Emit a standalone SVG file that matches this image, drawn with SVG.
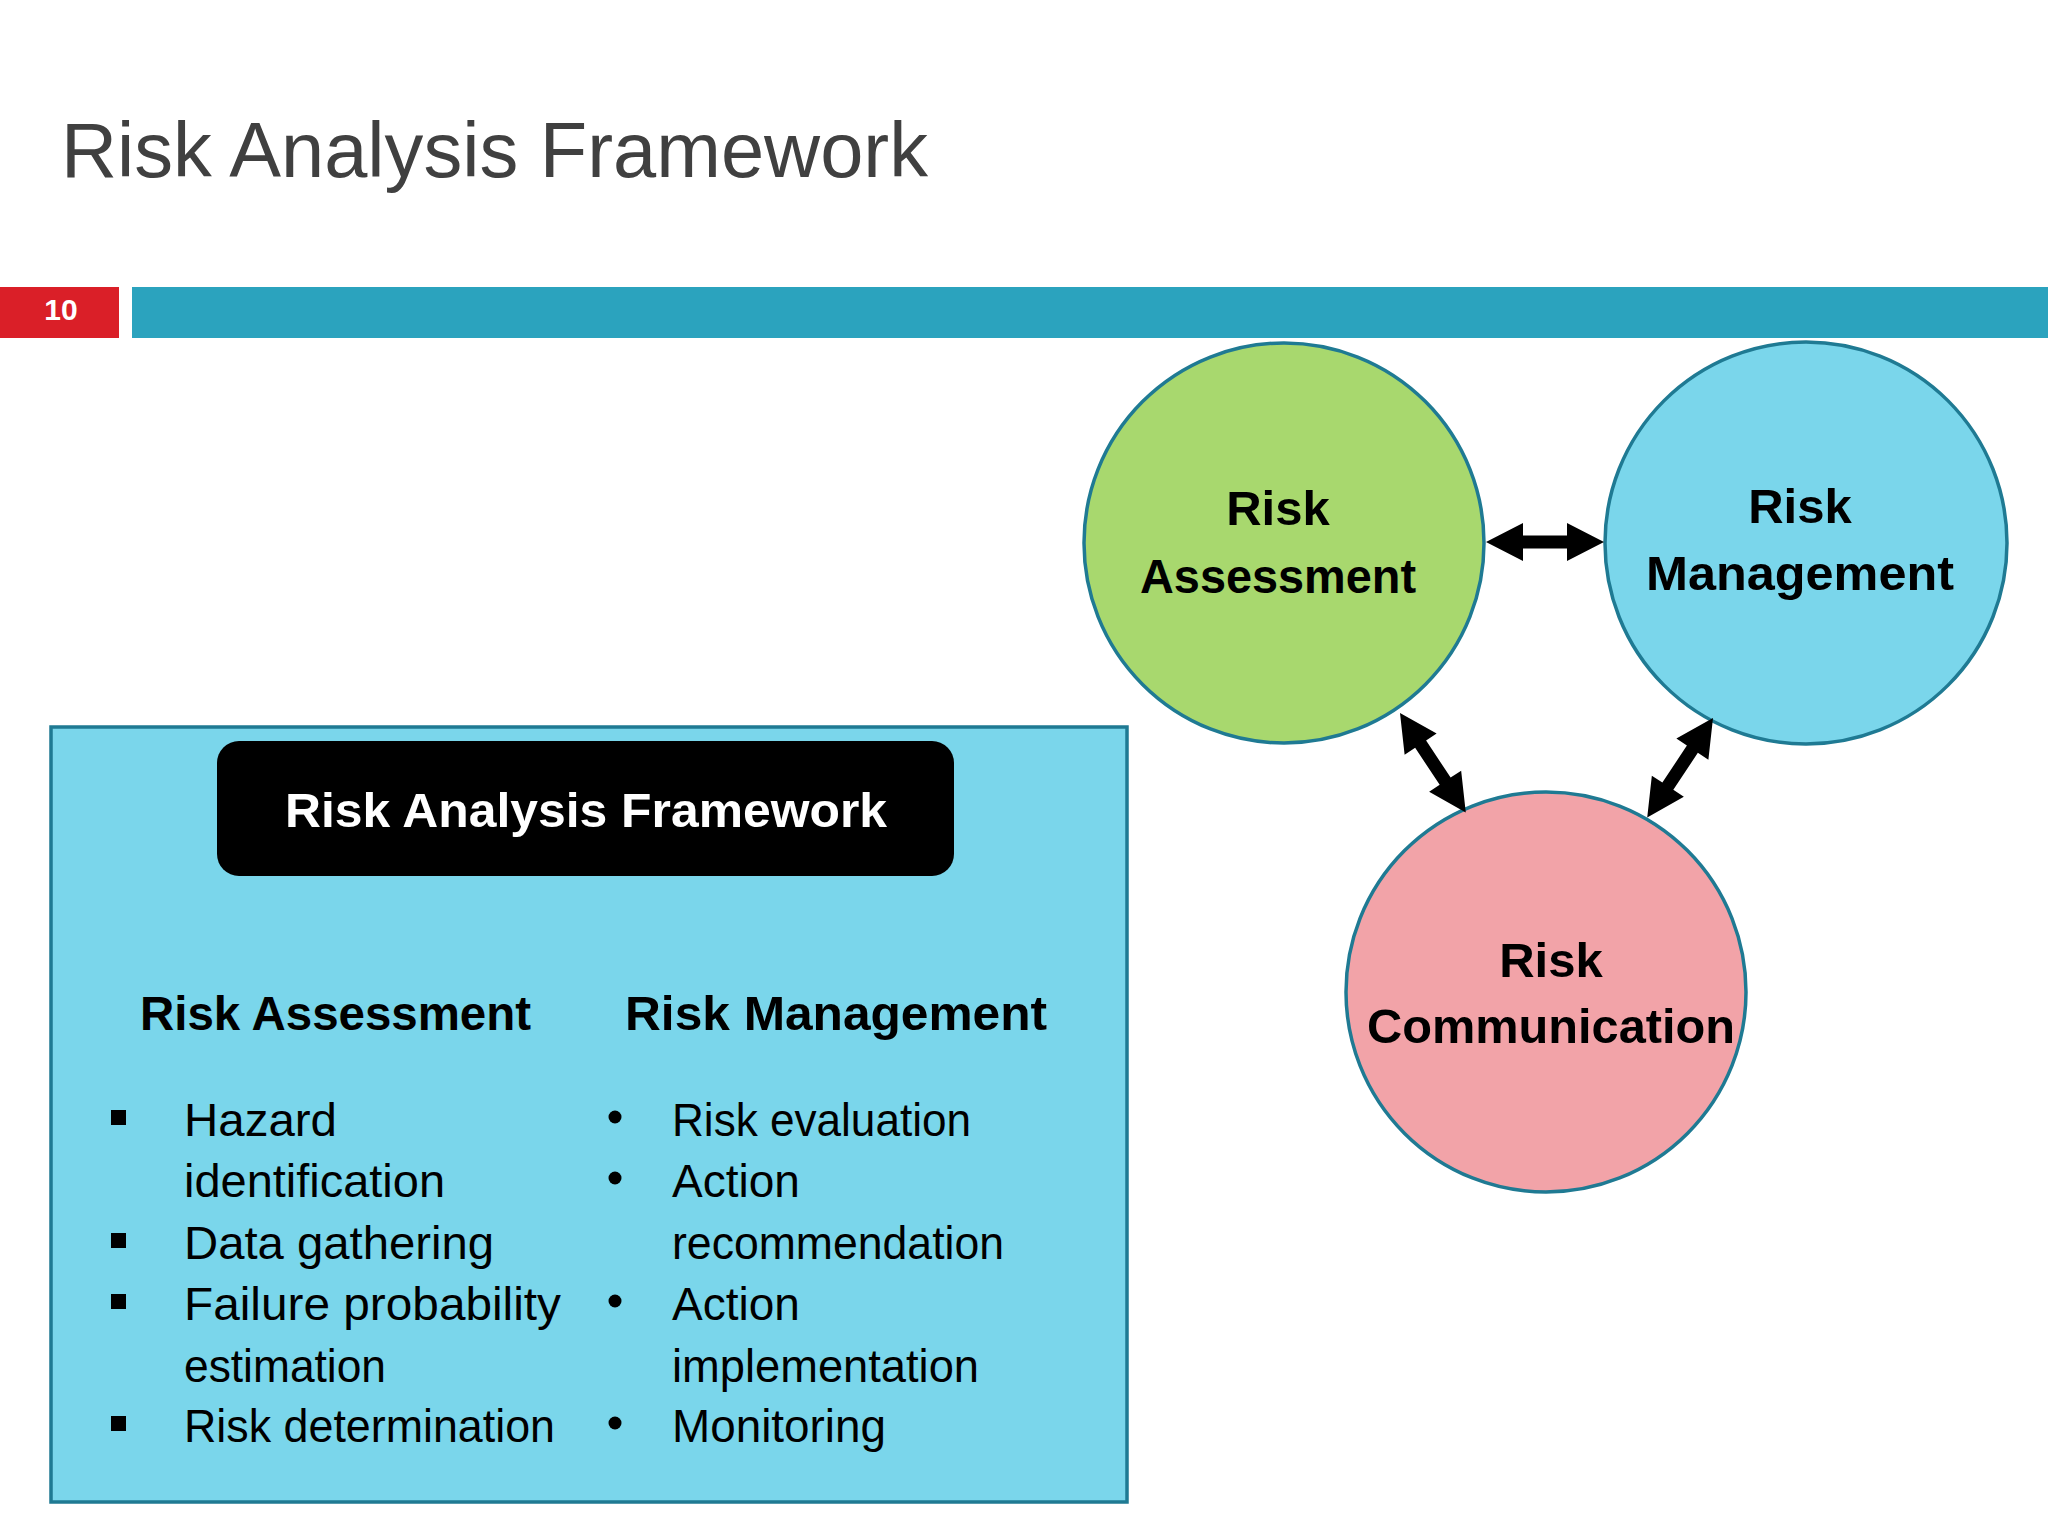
<svg xmlns="http://www.w3.org/2000/svg" width="2048" height="1536" viewBox="0 0 2048 1536">
  <style>
    .title{font-family:"Liberation Sans",Arial,sans-serif;font-size:78px;fill:#404040}
    .lbl{font-family:"Liberation Sans",Arial,sans-serif;font-weight:bold;font-size:49px;fill:#000;text-anchor:middle}
    .hdr{font-family:"Liberation Sans",Arial,sans-serif;font-weight:bold;font-size:48px;fill:#000}
    .body{font-family:"Liberation Sans",Arial,sans-serif;font-size:46px;fill:#000}
    .circ{stroke:#1F7A93;stroke-width:3.5}
  </style>
  <defs>
    <path id="dblArrow" d="M0,0 L37,-19 L37,-6.5 L81,-6.5 L81,-19 L118,0 L81,19 L81,6.5 L37,6.5 L37,19 Z" fill="#000"/>
  </defs>
  <rect width="2048" height="1536" fill="#FFFFFF"/>

  <g id="header">
    <text class="title" x="61" y="177" textLength="867" lengthAdjust="spacingAndGlyphs">Risk Analysis Framework</text>
    <rect x="0" y="287" width="119" height="51" fill="#DA1F28"/>
    <text x="61" y="320" font-family="Liberation Sans, Arial, sans-serif" font-weight="bold" font-size="30" fill="#FFFFFF" text-anchor="middle">10</text>
    <rect x="132" y="287" width="1916" height="51" fill="#2BA3BE"/>
  </g>

  <g id="panel">
    <rect x="51" y="727" width="1076" height="775" fill="#7AD6EB" stroke="#1F7A93" stroke-width="3.5"/>
    <rect x="217" y="741" width="737" height="135" rx="22" ry="22" fill="#000"/>
    <text x="586" y="827" font-family="Liberation Sans, Arial, sans-serif" font-weight="bold" font-size="48" fill="#FFFFFF" text-anchor="middle" textLength="602" lengthAdjust="spacingAndGlyphs">Risk Analysis Framework</text>
    <text class="hdr" x="140" y="1030" textLength="391" lengthAdjust="spacingAndGlyphs">Risk Assessment</text>
    <text class="hdr" x="625" y="1030" textLength="422" lengthAdjust="spacingAndGlyphs">Risk Management</text>
    <g fill="#000">
      <rect x="111" y="1110" width="15" height="15"/>
      <rect x="111" y="1233" width="15" height="15"/>
      <rect x="111" y="1294" width="15" height="15"/>
      <rect x="111" y="1416" width="15" height="15"/>
      <circle cx="615" cy="1117" r="6.5"/>
      <circle cx="615" cy="1178" r="6.5"/>
      <circle cx="615" cy="1301" r="6.5"/>
      <circle cx="615" cy="1423" r="6.5"/>
    </g>
    <text class="body" x="184" y="1136" textLength="153" lengthAdjust="spacingAndGlyphs">Hazard</text>
    <text class="body" x="184" y="1197" textLength="261" lengthAdjust="spacingAndGlyphs">identification</text>
    <text class="body" x="184" y="1259" textLength="310" lengthAdjust="spacingAndGlyphs">Data gathering</text>
    <text class="body" x="184" y="1320" textLength="377" lengthAdjust="spacingAndGlyphs">Failure probability</text>
    <text class="body" x="184" y="1382" textLength="202" lengthAdjust="spacingAndGlyphs">estimation</text>
    <text class="body" x="184" y="1442" textLength="371" lengthAdjust="spacingAndGlyphs">Risk determination</text>
    <text class="body" x="672" y="1136" textLength="299" lengthAdjust="spacingAndGlyphs">Risk evaluation</text>
    <text class="body" x="672" y="1197">Action</text>
    <text class="body" x="672" y="1259" textLength="332" lengthAdjust="spacingAndGlyphs">recommendation</text>
    <text class="body" x="672" y="1320">Action</text>
    <text class="body" x="672" y="1382" textLength="307" lengthAdjust="spacingAndGlyphs">implementation</text>
    <text class="body" x="672" y="1442" textLength="214" lengthAdjust="spacingAndGlyphs">Monitoring</text>
  </g>

  <g id="node-assessment">
    <circle class="circ" cx="1284" cy="543" r="200" fill="#A8D86E"/>
    <text class="lbl" x="1278" y="525">Risk</text>
    <text class="lbl" x="1278" y="593" textLength="276" lengthAdjust="spacingAndGlyphs">Assessment</text>
  </g>
  <g id="node-management">
    <circle class="circ" cx="1806" cy="543" r="201" fill="#7AD6EB"/>
    <text class="lbl" x="1800" y="523">Risk</text>
    <text class="lbl" x="1800" y="590" textLength="308" lengthAdjust="spacingAndGlyphs">Management</text>
  </g>
  <g id="node-communication">
    <circle class="circ" cx="1546" cy="992" r="200" fill="#F2A3A8"/>
    <text class="lbl" x="1551" y="977">Risk</text>
    <text class="lbl" x="1551" y="1043" textLength="368" lengthAdjust="spacingAndGlyphs">Communication</text>
  </g>

  <g id="connectors">
    <use href="#dblArrow" transform="translate(1486,542)"/>
    <use href="#dblArrow" transform="translate(1400,713) scale(1.01) rotate(56.5)"/>
    <use href="#dblArrow" transform="translate(1713,718) scale(1.01) rotate(123.5)"/>
  </g>
</svg>
